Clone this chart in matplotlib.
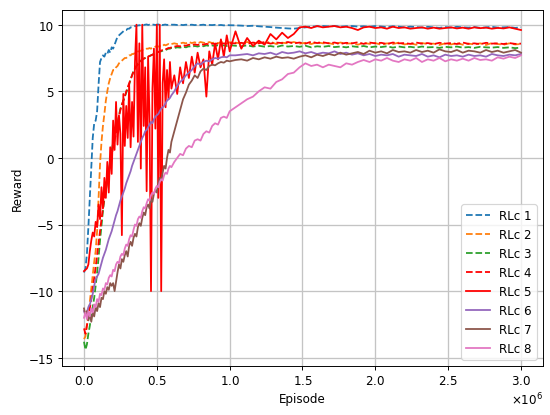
import numpy as np
import matplotlib
matplotlib.use("Agg")
import matplotlib.pyplot as plt
import matplotlib.ticker as ticker

# Episode grid, in millions: dense at the start, coarser later on
episodes = np.concatenate([
    np.arange(0, 0.605, 0.01),     # 0.00 - 0.60
    np.arange(0.62, 1.005, 0.02),  # 0.62 - 1.00
    np.arange(1.04, 3.005, 0.04),  # 1.04 - 3.00
]) * 1e6

labels = ["RLc 1", "RLc 2", "RLc 3", "RLc 4", "RLc 5", "RLc 6", "RLc 7", "RLc 8"]

rlc1 = [
    -8.6, -8.3, -7.2, -5.2, -3.0, -0.8, 1.5, 2.6, 2.8, 3.5,
    5.5, 7.2, 7.5, 7.7, 7.6, 7.9, 7.8, 8.1, 7.9, 8.3,
    8.2, 8.5, 8.8, 9.1, 9.2, 9.3, 9.4, 9.5, 9.6, 9.6,
    9.7, 9.7, 9.8, 9.8, 9.85, 9.9, 9.9, 9.95, 9.95, 10.0,
    10.0, 9.98, 10.0, 10.02, 9.98, 10.0, 9.97, 10.01, 10.0, 9.98,
    10.0, 10.02, 9.99, 10.0, 9.97, 10.0, 10.01, 9.98, 10.0, 9.99,
    10.0,
    10.0, 9.98, 10.0, 9.97, 10.0, 9.98, 10.0, 9.97, 9.99, 9.98,
    10.0, 9.96, 9.98, 9.97, 9.99, 9.96, 9.98, 9.95, 9.97, 9.96,
    9.95, 9.93, 9.9, 9.92, 9.88, 9.85, 9.82, 9.78, 9.75, 9.72,
    9.7, 9.75, 9.8, 9.85, 9.88, 9.9, 9.87, 9.9, 9.85, 9.88,
    9.9, 9.86, 9.88, 9.84, 9.9, 9.86, 9.82, 9.88, 9.85, 9.8,
    9.85, 9.82, 9.78, 9.84, 9.8, 9.76, 9.82, 9.78, 9.84, 9.8,
    9.78, 9.82, 9.76, 9.8, 9.84, 9.78, 9.8, 9.82, 9.76, 9.8,
]

rlc2 = [
    -13.6, -13.4, -12.5, -11.8, -10.8, -9.8, -8.8, -7.8, -7.0, -5.5,
    -3.0, -0.5, 1.2, 2.4, 3.3, 4.3, 5.0, 5.6, 6.0, 6.3,
    6.6, 6.6, 6.8, 6.9, 7.1, 7.2, 7.3, 7.4, 7.5, 7.5,
    7.6, 7.7, 7.7, 7.8, 7.8, 7.9, 7.9, 8.0, 8.0, 8.05,
    8.1, 8.1, 8.15, 8.2, 8.2, 8.25, 8.2, 8.3, 8.3, 8.35,
    8.4, 8.35, 8.4, 8.45, 8.4, 8.5, 8.45, 8.5, 8.55, 8.5,
    8.55,
    8.6, 8.55, 8.6, 8.65, 8.6, 8.7, 8.62, 8.68, 8.6, 8.7,
    8.65, 8.6, 8.7, 8.62, 8.68, 8.6, 8.7, 8.64, 8.6, 8.68,
    8.65, 8.6, 8.7, 8.58, 8.66, 8.6, 8.72, 8.55, 8.65, 8.6,
    8.7, 8.58, 8.64, 8.55, 8.68, 8.6, 8.62, 8.52, 8.66, 8.58,
    8.6, 8.5, 8.64, 8.56, 8.62, 8.5, 8.6, 8.55, 8.65, 8.52,
    8.6, 8.5, 8.62, 8.55, 8.58, 8.48, 8.6, 8.52, 8.62, 8.5,
    8.58, 8.52, 8.6, 8.48, 8.62, 8.55, 8.5, 8.6, 8.52, 8.55,
]

rlc3 = [
    -13.8, -14.4, -14.0, -13.2, -12.6, -11.8, -11.2, -10.5, -9.6, -8.6,
    -7.5, -6.2, -5.1, -4.0, -3.1, -2.5, -1.7, -1.0, -0.2, 0.6,
    1.1, 1.5, 2.0, 2.6, 3.2, 3.7, 4.0, 4.3, 4.6, 4.9,
    5.2, 5.5, 5.9, 6.2, 6.5, 6.7, 6.9, 7.1, 7.2, 7.3,
    7.4, 7.45, 7.5, 7.55, 7.6, 7.65, 7.7, 7.75, 7.8, 7.85,
    7.9, 7.95, 8.0, 8.0, 8.05, 8.1, 8.1, 8.15, 8.2, 8.2,
    8.25,
    8.25, 8.3, 8.28, 8.35, 8.3, 8.38, 8.34, 8.4, 8.36, 8.42,
    8.38, 8.45, 8.4, 8.44, 8.4, 8.46, 8.42, 8.45, 8.4, 8.46,
    8.42, 8.38, 8.45, 8.36, 8.42, 8.35, 8.4, 8.32, 8.44, 8.36,
    8.4, 8.34, 8.42, 8.3, 8.38, 8.34, 8.4, 8.32, 8.36, 8.3,
    8.38, 8.33, 8.4, 8.3, 8.36, 8.32, 8.38, 8.28, 8.36, 8.3,
    8.34, 8.28, 8.36, 8.3, 8.32, 8.26, 8.34, 8.3, 8.36, 8.28,
    8.32, 8.26, 8.34, 8.3, 8.28, 8.32, 8.26, 8.3, 8.24, 8.28,
]

rlc4 = [
    -12.8, -13.2, -12.6, -12.0, -11.3, -10.6, -9.8, -9.0, -8.2, -7.3,
    -6.4, -5.5, -4.6, -3.8, -3.0, -2.3, -1.6, -1.0, -0.4, 0.2,
    0.8, 1.3, 1.9, 2.5, 3.1, 3.6, 4.0, 4.3, 4.6, 5.0,
    5.3, 5.6, 5.9, 6.2, 6.5, 6.7, 6.9, 7.0, 7.15, 7.25,
    7.35, 7.45, 7.5, 7.55, 7.6, 7.65, 7.7, 7.75, 7.8, 7.85,
    7.9, 7.95, 8.0, 8.05, 8.1, 8.1, 8.15, 8.2, 8.25, 8.25,
    8.3,
    8.35, 8.4, 8.38, 8.45, 8.42, 8.5, 8.46, 8.52, 8.48, 8.55,
    8.5, 8.56, 8.52, 8.58, 8.54, 8.6, 8.55, 8.6, 8.56, 8.62,
    8.6, 8.64, 8.56, 8.66, 8.6, 8.7, 8.58, 8.66, 8.62, 8.7,
    8.6, 8.66, 8.58, 8.72, 8.62, 8.68, 8.6, 8.66, 8.56, 8.64,
    8.6, 8.68, 8.56, 8.66, 8.6, 8.64, 8.55, 8.66, 8.6, 8.62,
    8.56, 8.66, 8.58, 8.62, 8.54, 8.64, 8.58, 8.62, 8.55, 8.66,
    8.56, 8.6, 8.54, 8.64, 8.58, 8.6, 8.55, 8.62, 8.56, 8.58,
]

rlc5 = [
    -8.5, -8.4, -8.3, -8.0, -7.0, -6.2, -5.6, -5.9, -4.8, -5.2,
    -3.5, -4.6, -2.2, -3.8, -1.5, -3.0, -0.3, -2.6, 0.8, -1.2,
    2.8, 0.6, 4.2, 1.0, 3.2, 1.8, -5.8, 4.8, 0.9, 3.9,
    1.5, 5.5, 0.8, 4.2, 1.6, 7.2, 10.0, 1.2, 8.6, -0.8,
    10.0, 2.4, 6.8, -2.5, 7.6, 2.8, -10.0, 5.2, 8.2, 2.2,
    10.0, -3.0, 10.0, -10.0, 5.6, 7.4, 3.8, 6.6, 4.4, 7.2,
    5.2,
    6.2, 4.8, 6.8, 5.6, 7.2, 6.0, 7.6, 6.4, 7.9, 6.8,
    7.4, 4.6, 8.0, 7.0, 8.6, 7.4, 8.9, 7.6, 9.2, 8.0,
    9.5, 8.2, 9.0, 8.4, 8.8, 8.5, 9.3, 8.9, 9.4, 9.0,
    9.3, 9.8, 9.85, 9.75, 9.9, 9.8, 9.85, 9.9, 9.8, 9.85,
    9.75, 9.6, 9.8, 9.85, 9.75, 9.8, 9.7, 9.85, 9.75, 9.8,
    9.7, 9.75, 9.8, 9.7, 9.78, 9.7, 9.75, 9.8, 9.72, 9.78,
    9.7, 9.8, 9.74, 9.78, 9.7, 9.76, 9.72, 9.8, 9.7, 9.6,
]

rlc6 = [
    -11.5, -11.8, -11.6, -11.2, -11.0, -10.6, -10.2, -9.6, -9.1, -8.9,
    -8.7, -8.3, -7.9, -7.5, -7.2, -6.9, -6.5, -6.1, -5.8, -5.5,
    -5.1, -4.7, -4.3, -4.0, -3.6, -3.2, -2.9, -2.6, -2.3, -1.9,
    -1.6, -1.3, -1.0, -0.6, -0.3, 0.0, 0.3, 0.6, 0.9, 1.2,
    1.5, 1.7, 2.0, 2.1, 2.3, 2.5, 2.7, 2.6, 2.9, 3.1,
    3.2, 3.3, 3.5, 3.7, 3.8, 3.9, 4.1, 4.3, 4.4, 4.5,
    4.7,
    5.0, 5.4, 5.7, 5.9, 6.2, 6.4, 6.6, 6.9, 7.1, 7.0,
    7.2, 7.3, 7.25, 7.4, 7.5, 7.45, 7.55, 7.6, 7.55, 7.7,
    7.7, 7.75, 7.8, 7.7, 7.85, 7.8, 7.9, 7.75, 7.95, 7.85,
    7.9, 8.0, 7.85, 7.95, 7.8, 7.9, 7.85, 8.0, 7.8, 7.9,
    7.75, 7.85, 7.7, 7.8, 7.65, 7.75, 7.7, 7.8, 7.6, 7.75,
    7.7, 7.65, 7.8, 7.6, 7.7, 7.55, 7.75, 7.65, 7.7, 7.6,
    7.75, 7.65, 7.7, 7.6, 7.8, 7.7, 7.65, 7.75, 7.7, 7.8,
]

rlc7 = [
    -11.3, -11.8, -11.5, -12.2, -11.7, -12.3, -11.6, -11.9, -11.2, -11.5,
    -10.9, -11.2, -10.5, -10.6, -10.0, -10.2, -9.7, -9.9, -9.4, -9.6,
    -9.4, -10.0, -9.3, -8.6, -8.0, -8.3, -7.6, -7.8, -7.3, -7.0,
    -7.4, -6.6, -6.3, -6.6, -6.0, -5.7, -5.9, -5.2, -4.9, -5.1,
    -4.5, -4.1, -4.3, -3.7, -3.5, -3.8, -3.1, -3.3, -2.7, -2.4,
    -2.6, -1.9, -1.5, -1.7, -1.1, -0.6, -0.8, 0.0, 0.6, 0.4,
    1.2,
    2.0, 2.8, 3.6, 4.4, 4.9, 5.5, 5.8, 6.2, 6.0, 6.5,
    6.7, 6.6, 6.9, 7.0, 6.95, 7.1, 7.2, 7.15, 7.3, 7.25,
    7.35, 7.4, 7.3, 7.5, 7.4, 7.55, 7.45, 7.6, 7.5, 7.55,
    7.45, 7.6, 7.7, 7.55, 7.75, 7.65, 7.8, 7.7, 7.9, 7.75,
    7.85, 7.95, 7.8, 8.05, 7.9, 8.0, 7.85, 8.1, 7.95, 8.0,
    7.9, 8.1, 7.95, 8.05, 7.9, 8.15, 8.0, 7.95, 8.1, 7.9,
    8.05, 8.0, 7.9, 8.1, 7.95, 8.05, 7.9, 8.0, 8.1, 7.9,
]

rlc8 = [
    -12.0, -11.6, -12.1, -11.5, -11.9, -11.3, -11.6, -11.0, -11.2, -10.6,
    -10.8, -10.2, -10.3, -9.8, -9.9, -9.4, -9.5, -9.0, -8.8, -8.9,
    -8.4, -8.5, -8.0, -7.8, -7.9, -7.4, -7.2, -7.3, -6.8, -6.5,
    -6.6, -6.1, -5.8, -5.9, -5.4, -5.0, -5.1, -4.6, -4.4, -4.5,
    -4.0, -3.7, -3.8, -3.4, -3.1, -3.2, -2.8, -2.6, -2.7, -2.3,
    -2.1, -2.2, -1.8, -1.6, -1.7, -1.3, -1.1, -1.2, -0.8, -0.6,
    -0.7,
    -0.3, 0.0, 0.3, 0.2, 0.7, 0.9, 0.8, 1.3, 1.4, 1.3,
    1.8, 2.0, 1.9, 2.4, 2.6, 2.5, 3.0, 3.1, 3.0, 3.5,
    3.8, 4.1, 4.4, 4.6, 5.0, 5.3, 5.2, 5.7, 5.9, 6.3,
    6.4, 6.8, 7.1, 6.9, 7.0, 6.8, 7.0, 6.9, 6.8, 7.1,
    7.0, 7.2, 7.35, 7.2, 7.4, 7.3, 7.5, 7.3, 7.2, 7.4,
    7.3, 7.5, 7.2, 7.4, 7.3, 7.5, 7.25, 7.4, 7.3, 7.45,
    7.3, 7.5, 7.35, 7.4, 7.3, 7.55, 7.45, 7.6, 7.5, 7.7,
]

series = [rlc1, rlc2, rlc3, rlc4, rlc5, rlc6, rlc7, rlc8]
colors = ["tab:blue", "tab:orange", "tab:green", "red",
          "red", "tab:purple", "tab:brown", "tab:pink"]
styles = ["--", "--", "--", "--", "-", "-", "-", "-"]

fig = plt.figure(figsize=(6.4, 4.84), dpi=550 / 6.4)
ax = fig.add_subplot(111)
fig.subplots_adjust(left=0.113, right=0.987, bottom=0.1185, top=0.9736)

for values, label, color, style in zip(series, labels, colors, styles):
    ax.plot(episodes, values, linestyle=style, color=color, label=label)

ax.set_xlabel("Episode")
ax.set_ylabel("Reward")
ax.set_ylim(-15.6, 11.1)
ax.set_yticks([-15, -10, -5, 0, 5, 10])

# x offset shown as x10^6 like the original
fmt = ticker.ScalarFormatter(useMathText=True)
fmt.set_powerlimits((0, 0))
ax.xaxis.set_major_formatter(fmt)

ax.grid(True, color="#c4c4c4", linewidth=1.1)
ax.legend(loc="lower right")

fig.savefig("out.png")
